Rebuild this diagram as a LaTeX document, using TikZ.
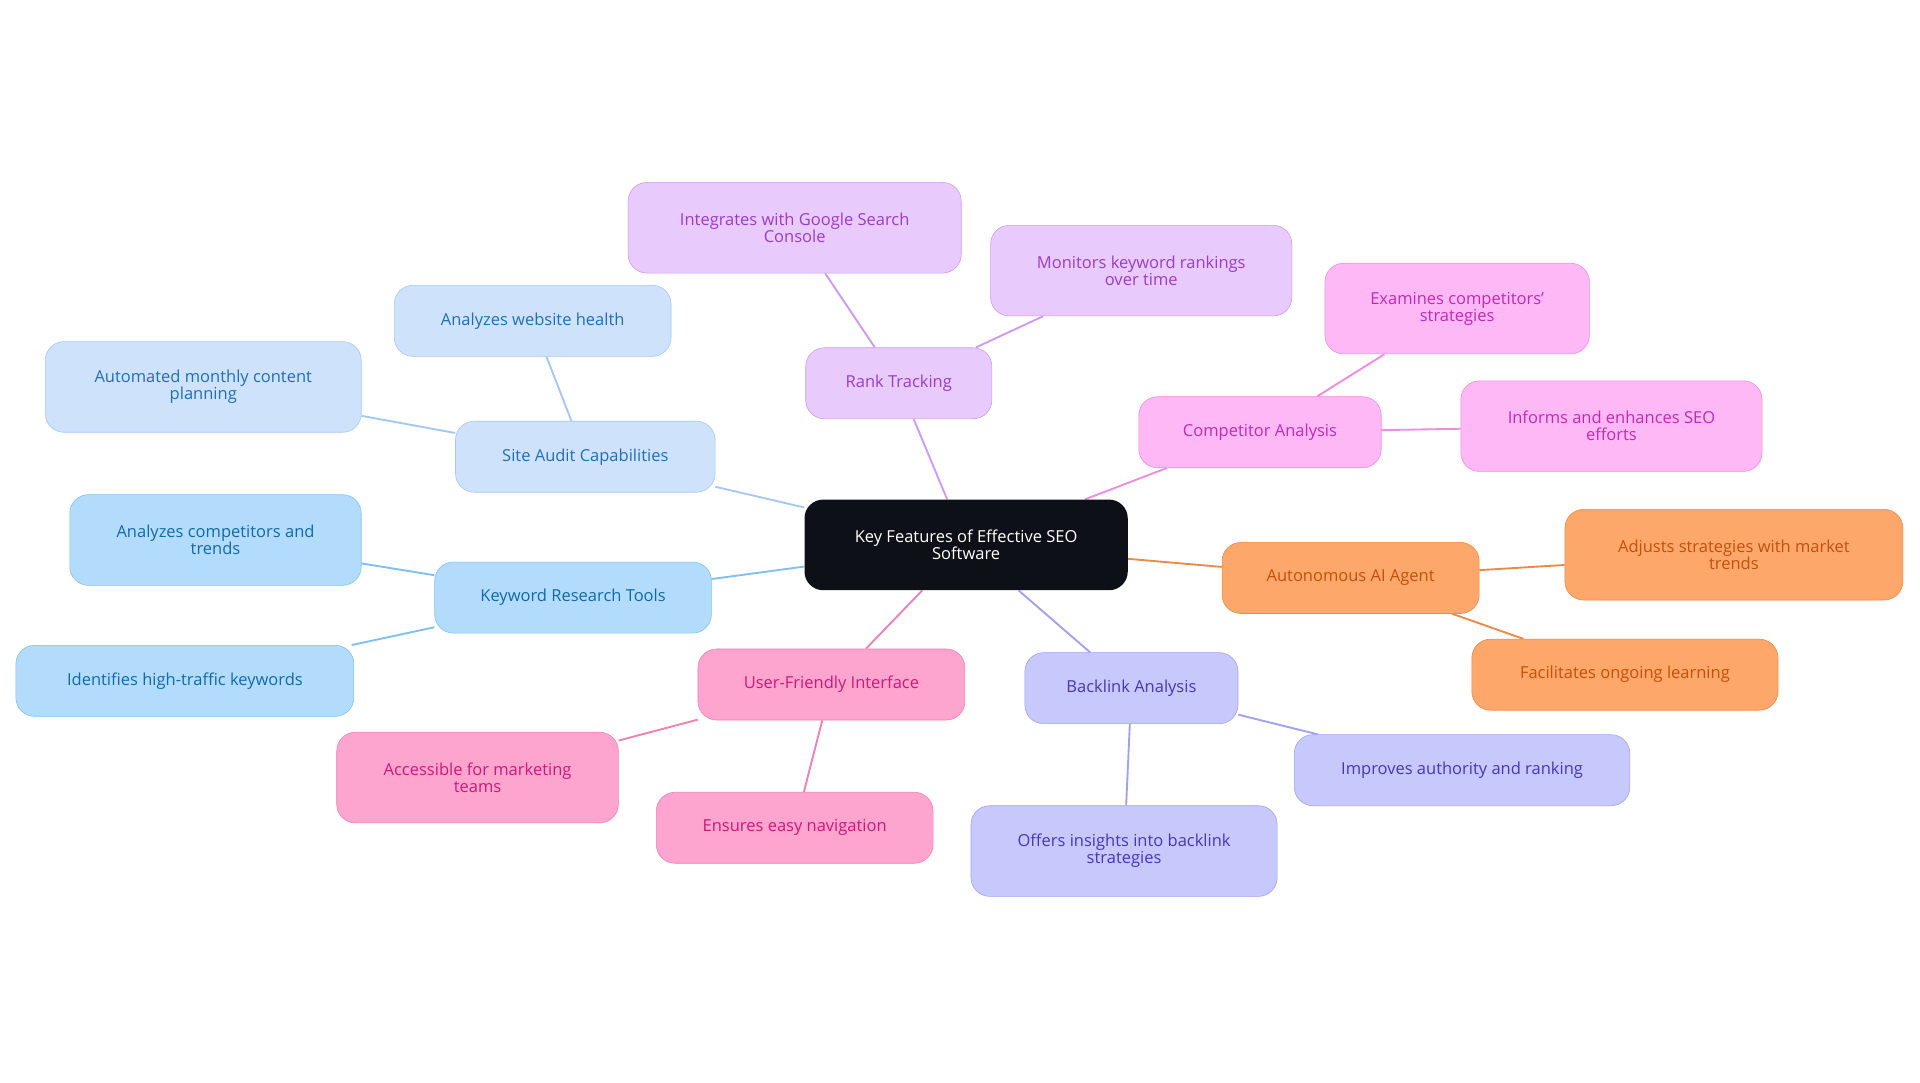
\documentclass[tikz,border=0pt]{standalone}
\usepackage{fontspec}
\setmainfont{Open Sans}
\usetikzlibrary{positioning, backgrounds}
\definecolor{rootfill}{HTML}{0D1117}
\definecolor{siteF}{HTML}{CFE2FB}\definecolor{siteD}{HTML}{A5C8F0}\definecolor{siteT}{HTML}{1F6FB5}
\definecolor{kwF}{HTML}{B3DCFC}\definecolor{kwD}{HTML}{7FC0F0}\definecolor{kwT}{HTML}{1169A8}
\definecolor{rankF}{HTML}{E9CAFD}\definecolor{rankD}{HTML}{CC9AF0}\definecolor{rankT}{HTML}{9A3CC4}
\definecolor{compF}{HTML}{FDB8F5}\definecolor{compD}{HTML}{EE8CE2}\definecolor{compT}{HTML}{C02AB4}
\definecolor{aiF}{HTML}{FDA76A}\definecolor{aiD}{HTML}{EC8A45}\definecolor{aiT}{HTML}{C2510C}
\definecolor{blF}{HTML}{C7C9FC}\definecolor{blD}{HTML}{9FA2F0}\definecolor{blT}{HTML}{4637B5}
\definecolor{uiF}{HTML}{FDA4CF}\definecolor{uiD}{HTML}{EE80B5}\definecolor{uiT}{HTML}{C81A7A}
\tikzset{
  pill/.style={rectangle, rounded corners=13pt, align=center, font=\fontsize{11.5}{12}\selectfont, inner sep=2pt},
  branch/.style 2 args={pill, fill=#1F, draw=#1D, text=#1T, minimum width=#2*0.03cm, minimum height=1.74cm},
  leaf/.style 2 args={pill, fill=#1F, draw=#1D, text=#1T, minimum width=#2*0.03cm, minimum height=1.74cm},
  tall/.style={minimum height=2.22cm},
  link/.style={line width=1.3pt, draw=#1D}
}
\begin{document}
\begin{tikzpicture}[x=0.03cm, y=-0.03cm]
    \useasboundingbox (0,0) rectangle (1568,884);
    % Root
    \node[pill, fill=rootfill, text=white, minimum width=264*0.03cm, minimum height=2.22cm] (root) at (789,445) {Key Features of Effective SEO\\Software};
    % Site audit
    \node[branch={site}{212}] (site) at (478,373) {Site Audit Capabilities};
    \node[leaf={site}{226}] (health) at (435,262) {Analyzes website health};
    \node[leaf={site}{258}, tall] (monthly) at (166,316) {Automated monthly content\\planning};
    % Keyword research
    \node[branch={kw}{226}] (kw) at (468,488) {Keyword Research Tools};
    \node[leaf={kw}{238}, tall] (trends) at (176,441) {Analyzes competitors and\\trends};
    \node[leaf={kw}{276}] (traffic) at (151,556) {Identifies high-traffic keywords};
    % Rank tracking
    \node[branch={rank}{152}] (rank) at (734,313) {Rank Tracking};
    \node[leaf={rank}{272}, tall] (gsc) at (649,186) {Integrates with Google Search\\Console};
    \node[leaf={rank}{246}, tall] (monitor) at (932,221) {Monitors keyword rankings\\over time};
    % Competitor analysis
    \node[branch={comp}{198}] (comp) at (1029,353) {Competitor Analysis};
    \node[leaf={comp}{216}, tall] (examine) at (1190,252) {Examines competitors'\\strategies};
    \node[leaf={comp}{246}, tall] (inform) at (1316,348) {Informs and enhances SEO\\efforts};
    % AI agent
    \node[branch={ai}{210}] (ai) at (1103,472) {Autonomous AI Agent};
    \node[leaf={ai}{276}, tall] (adjust) at (1416,453) {Adjusts strategies with market\\trends};
    \node[leaf={ai}{250}] (learn) at (1327,551) {Facilitates ongoing learning};
    % Backlinks
    \node[branch={bl}{174}] (bl) at (924,562) {Backlink Analysis};
    \node[leaf={bl}{274}] (authority) at (1194,629) {Improves authority and ranking};
    \node[leaf={bl}{250}, tall] (insights) at (918,695) {Offers insights into backlink\\strategies};
    % Interface
    \node[branch={ui}{218}] (ui) at (679,559) {User-Friendly Interface};
    \node[leaf={ui}{230}, tall] (access) at (390,635) {Accessible for marketing\\teams};
    \node[leaf={ui}{226}] (nav) at (649,676) {Ensures easy navigation};
    % Connectors
    \begin{scope}[on background layer]
        \fill[white] (0,0) rectangle (1568,884);
        \draw[link=site] (root) -- (site) (site) -- (health) (site) -- (monthly);
        \draw[link=kw] (root) -- (kw) (kw) -- (trends) (kw) -- (traffic);
        \draw[link=rank] (root) -- (rank) (rank) -- (gsc) (rank) -- (monitor);
        \draw[link=comp] (root) -- (comp) (comp) -- (examine) (comp) -- (inform);
        \draw[link=ai] (root) -- (ai) (ai) -- (adjust) (ai) -- (learn);
        \draw[link=bl] (root) -- (bl) (bl) -- (authority) (bl) -- (insights);
        \draw[link=ui] (root) -- (ui) (ui) -- (access) (ui) -- (nav);
    \end{scope}
\end{tikzpicture}
\end{document}
